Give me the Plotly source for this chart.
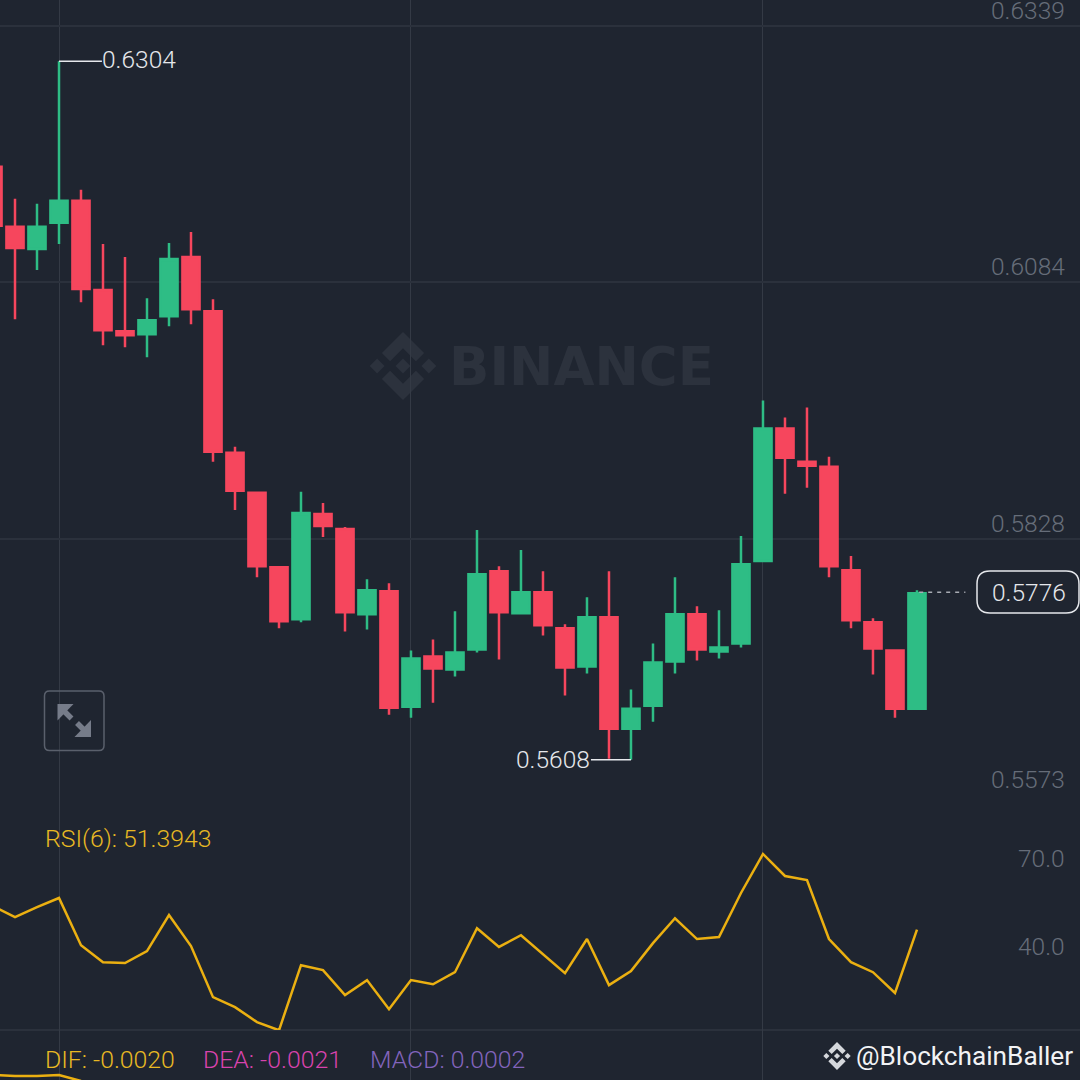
import plotly.graph_objects as go
from plotly.subplots import make_subplots

W = 1080
H = 1080
BG = "#1F2530"
GRID = "#2B313C"
GRID_V = "#343A45"
AXIS_TEXT = "#666D79"
WHITE = "#E6E8EC"
GREEN = "#2EBD85"
RED = "#F6465D"
YELLOW = "#EBB011"

# candles, oldest first (the first one is cut by the left edge)
opens = [0.6199, 0.6139, 0.6117, 0.6143, 0.6165, 0.6076, 0.6035, 0.6032, 0.6050, 0.6109,
         0.6055, 0.5914, 0.5874, 0.5800, 0.5748, 0.5853, 0.5838, 0.5753, 0.5776, 0.5661,
         0.5711, 0.5698, 0.5718, 0.5796, 0.5754, 0.5775, 0.5739, 0.5701, 0.5750, 0.5639,
         0.5662, 0.5706, 0.5753, 0.5716, 0.5724, 0.5806, 0.5938, 0.5905, 0.5900, 0.5797,
         0.5745, 0.5717, 0.5659]
closes = [0.6140, 0.6118, 0.6139, 0.6165, 0.6077, 0.6036, 0.6031, 0.6046, 0.6107, 0.6057,
          0.5915, 0.5876, 0.5801, 0.5746, 0.5854, 0.5841, 0.5755, 0.5777, 0.5660, 0.5709,
          0.5699, 0.5715, 0.5793, 0.5755, 0.5775, 0.5742, 0.5700, 0.5750, 0.5639, 0.5659,
          0.5705, 0.5753, 0.5718, 0.5720, 0.5803, 0.5938, 0.5909, 0.5901, 0.5801, 0.5747,
          0.5719, 0.5659, 0.5774]
highs = [0.6200, 0.6167, 0.6162, 0.6304, 0.6176, 0.6122, 0.6109, 0.6068, 0.6123, 0.6134,
         0.6067, 0.5920, 0.5875, 0.5801, 0.5875, 0.5864, 0.5840, 0.5788, 0.5784, 0.5717,
         0.5728, 0.5756, 0.5837, 0.5801, 0.5817, 0.5796, 0.5743, 0.5770, 0.5796, 0.5678,
         0.5724, 0.5790, 0.5761, 0.5757, 0.5831, 0.5966, 0.5949, 0.5959, 0.5910, 0.5811,
         0.5749, 0.5718, 0.5777]
lows = [0.6139, 0.6047, 0.6096, 0.6122, 0.6064, 0.6021, 0.6019, 0.6009, 0.6040, 0.6042,
        0.5905, 0.5857, 0.5790, 0.5739, 0.5745, 0.5830, 0.5736, 0.5738, 0.5653, 0.5650,
        0.5665, 0.5691, 0.5715, 0.5708, 0.5753, 0.5732, 0.5672, 0.5694, 0.5609, 0.5608,
        0.5646, 0.5694, 0.5707, 0.5709, 0.5720, 0.5805, 0.5873, 0.5879, 0.5790, 0.5739,
        0.5693, 0.5650, 0.5658]
index = list(range(len(opens)))

rsi6 = [59.4, 55.7, 59.1, 62.2, 46.1, 40.3, 40.0, 44.1, 56.4, 45.8,
        28.4, 25.0, 19.9, 17.1, 39.3, 37.6, 29.1, 34.2, 24.3, 34.2,
        32.8, 36.9, 51.9, 45.5, 49.5, 43.1, 36.6, 48.2, 32.5, 37.3,
        46.8, 55.3, 48.2, 48.9, 63.9, 77.2, 69.7, 68.3, 48.2, 40.3,
        36.9, 29.8, 51.4]

# only the start of the DIF line shows in the cropped MACD pane
dif_index = [0, 1, 2, 3, 4]
dif = [0.0032, 0.0031, 0.0031, 0.0032, 0.0026]

price_ticks = [0.5573, 0.5828, 0.6084, 0.6339]
price_labels = ["0.5573", "0.5828", "0.6084", "0.6339"]
rsi_ticks = [40, 70]
rsi_labels = ["40.0", "70.0"]
grid_candles = [3, 19, 35]

last_price = "0.5776"
high_label = "0.6304"
low_label = "0.5608"


def px(x):
    return x / W


def py(y):
    return 1 - y / H


def poly(points, cx, cy, r):
    coords = [f"{px(cx + a * r):.5f},{py(cy - b * r):.5f}" for a, b in points]
    return "M" + " L".join(coords) + " Z"


def logo_shapes(cx, cy, r, colour, layer):
    diamond = [(0, 0.22), (0.22, 0), (0, -0.22), (-0.22, 0)]
    parts = [
        diamond,
        [(a - 0.76, b) for a, b in diamond],
        [(a + 0.76, b) for a, b in diamond],
        [(0, 1), (0.62, 0.38), (0.38, 0.14), (0, 0.52), (-0.38, 0.14), (-0.62, 0.38)],
        [(0, -1), (0.62, -0.38), (0.38, -0.14), (0, -0.52), (-0.38, -0.14), (-0.62, -0.38)],
    ]
    return [dict(type="path", xref="paper", yref="paper", path=poly(p, cx, cy, r),
                 fillcolor=colour, line=dict(width=0), layer=layer) for p in parts]


def round_box(x0, y0, x1, y1, r, colour, width):
    pts = (
        f"M{px(x0 + r):.5f},{py(y0):.5f} L{px(x1 - r):.5f},{py(y0):.5f} "
        f"Q{px(x1):.5f},{py(y0):.5f} {px(x1):.5f},{py(y0 + r):.5f} "
        f"L{px(x1):.5f},{py(y1 - r):.5f} Q{px(x1):.5f},{py(y1):.5f} {px(x1 - r):.5f},{py(y1):.5f} "
        f"L{px(x0 + r):.5f},{py(y1):.5f} Q{px(x0):.5f},{py(y1):.5f} {px(x0):.5f},{py(y1 - r):.5f} "
        f"L{px(x0):.5f},{py(y0 + r):.5f} Q{px(x0):.5f},{py(y0):.5f} {px(x0 + r):.5f},{py(y0):.5f} Z"
    )
    return dict(type="path", xref="paper", yref="paper", path=pts, line=dict(color=colour, width=width))


def label(text, x, y, colour, size=24.5, anchor="left", family="Roboto", weight=300):
    return dict(text=text, xref="paper", yref="paper", x=px(x), y=py(y), xanchor=anchor, yanchor="middle",
                showarrow=False, borderpad=0, font=dict(family=family, size=size, color=colour, weight=weight))


def axis_label(text, value, yref, shift=16):
    # binance prints these just above the level they mark
    return dict(text=text, xref="paper", yref=yref, x=px(1066), y=value, xanchor="right", yanchor="middle",
                yshift=shift, showarrow=False, borderpad=0,
                font=dict(family="Roboto", size=24.5, color=AXIS_TEXT, weight=300))


fig = make_subplots(rows=3, cols=1, shared_xaxes=True)

fig.add_trace(go.Candlestick(
    x=index, open=opens, high=highs, low=lows, close=closes,
    increasing=dict(line=dict(color=GREEN, width=2.5), fillcolor=GREEN),
    decreasing=dict(line=dict(color=RED, width=2.5), fillcolor=RED),
    whiskerwidth=0,
), row=1, col=1)
fig.add_trace(go.Scatter(x=index, y=rsi6, mode="lines", line=dict(color=YELLOW, width=2.5)), row=2, col=1)
fig.add_trace(go.Scatter(x=dif_index, y=dif, mode="lines", line=dict(color=YELLOW, width=2.5)), row=3, col=1)

fig.update_xaxes(range=[0.318, 49.41], tickvals=grid_candles, showticklabels=False, showgrid=True,
                 gridcolor=GRID_V, gridwidth=1, zeroline=False, ticks="", rangeslider_visible=False)

fig.update_yaxes(domain=[1 - 795 / H, 1], range=[0.5573, 0.6365], tickvals=price_ticks, showticklabels=False,
                 showgrid=True, gridcolor=GRID, gridwidth=1.5, zeroline=False, ticks="", row=1, col=1)
fig.update_yaxes(domain=[50 / H, 1 - 795 / H], range=[17.2, 97.3], tickvals=rsi_ticks, showticklabels=False,
                 showgrid=False, zeroline=False, ticks="", row=2, col=1)
fig.update_yaxes(domain=[0, 50 / H], range=[0.0027, 0.0077], showticklabels=False, showgrid=False,
                 zeroline=False, row=3, col=1)

shapes = []
shapes += logo_shapes(403, 366, 34, "#2C323D", "below")
shapes += logo_shapes(837, 1056, 14, "#D5D8DC", "above")
# pane rule under the RSI block
shapes.append(dict(type="line", xref="paper", yref="paper", x0=0, x1=1, y0=py(1030), y1=py(1030),
                   line=dict(color=GRID, width=2), layer="below"))
# high and low leader lines, last price dashes
shapes.append(dict(type="line", xref="x", yref="y", x0=3, x1=4.95, y0=0.6304, y1=0.6304,
                   line=dict(color=WHITE, width=1.5)))
shapes.append(dict(type="line", xref="x", yref="y", x0=27.18, x1=29, y0=0.5608, y1=0.5608,
                   line=dict(color=WHITE, width=1.5)))
shapes.append(dict(type="line", xref="x", yref="y", x0=42.1, x1=44.2, y0=0.5775, y1=0.5775,
                   line=dict(color="#A8ACB3", width=1.5, dash="4px,5px")))
shapes.append(round_box(977, 571, 1079, 613, 13, WHITE, 1.5))
# expand button
shapes.append(round_box(44.5, 691, 104, 750.5, 5, "#5A606C", 1.5))
for tri in ([(57.5, 704), (73.5, 704), (57.5, 720.5)], [(91, 737), (91, 720), (74.5, 737)]):
    shapes.append(dict(type="path", xref="paper", yref="paper", line=dict(width=0), fillcolor="#767C89",
                       path="M" + " L".join(f"{px(a):.5f},{py(b):.5f}" for a, b in tri) + " Z"))
for a, b, c, d in [(64, 711, 71.5, 718.5), (77, 723, 84, 730)]:
    shapes.append(dict(type="line", xref="paper", yref="paper", x0=px(a), y0=py(b), x1=px(c), y1=py(d),
                       line=dict(color="#767C89", width=5.5)))

annotations = [
    label(high_label, 100.5, 59.5, WHITE),
    label(low_label, 515, 759.5, WHITE),
    label(last_price, 1029, 592.5, WHITE, anchor="center"),
    label("RSI(6): 51.3943", 43.5, 838, "#E8B923", size=24.8),
    label("DIF: -0.0020", 43.5, 1059, "#E8B923", size=24.8),
    label("DEA: -0.0021", 201.5, 1059, "#D843AD", size=24.8),
    label("MACD: 0.0002", 368.5, 1059, "#8264BC", size=24.8),
    label("@BlockchainBaller", 855, 1056, "#F2F3F5", size=26.2, weight=400),
    label("<b>BINANCE</b>", 448, 366, "#2C323D", size=53, family="DejaVu Sans", weight=700),
]
annotations += [axis_label(t, v, "y") for t, v in zip(price_labels, price_ticks)]
annotations += [axis_label(t, v, "y2", shift=17) for t, v in zip(rsi_labels, rsi_ticks)]

fig.update_layout(
    width=W, height=H, margin=dict(l=0, r=0, t=0, b=0), autosize=False,
    paper_bgcolor=BG, plot_bgcolor=BG, showlegend=False, boxgap=0.22, boxgroupgap=0,
    shapes=shapes, annotations=annotations, hovermode=False,
)

# page margin would push the chart off the 1080 window
fig.write_html("out.html", config=dict(displayModeBar=False),
               post_script="document.body.style.margin='0';document.documentElement.style.overflow='hidden';")
